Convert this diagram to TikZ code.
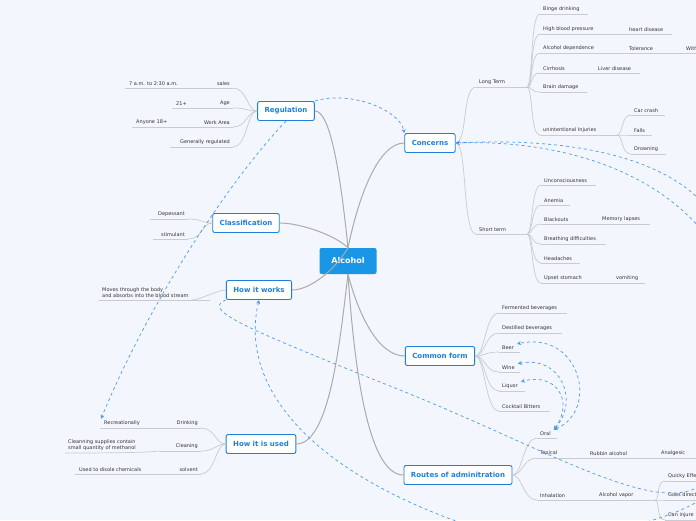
\documentclass[tikz,border=0pt]{standalone}
\usepackage{fontspec}
\setmainfont{DejaVu Sans}
\usetikzlibrary{arrows.meta}
\definecolor{bg}{HTML}{F3F6FD}
\definecolor{mblue}{HTML}{1E7FD8}
\definecolor{cblue}{HTML}{1A96E6}
\definecolor{dblue}{HTML}{4A9AEE}
\definecolor{lgrey}{HTML}{C9CBD0}
\definecolor{mgrey}{HTML}{ABABAB}
\definecolor{tgrey}{HTML}{333333}
\tikzset{
 topic/.style={draw=mblue,fill=white,rounded corners=2pt,line width=0.9pt,text=mblue,font=\fontsize{7}{8}\selectfont\bfseries,inner xsep=7pt,minimum height=19pt},
 central/.style={fill=cblue,rounded corners=2pt,text=white,font=\fontsize{8}{9}\selectfont\bfseries,minimum width=57pt,minimum height=26pt},
 leaf/.style={font=\fontsize{5}{6}\selectfont,text=tgrey,inner xsep=3pt,inner ysep=2pt,align=left},
 uline/.style={draw=lgrey,line width=0.7pt},
 conn/.style={draw=lgrey,line width=0.7pt},
 mconn/.style={draw=mgrey,line width=1pt},
 rel/.style={draw=dblue,dashed,line width=0.7pt,-{Stealth[length=4pt,width=4pt]}},
 relb/.style={draw=dblue,dashed,line width=0.7pt,{Stealth[length=4pt,width=4pt]}-{Stealth[length=4pt,width=4pt]}},
}
\newcommand\RL[5]{\node[leaf,anchor=south west] (#1) at (#2,#3) {#4}; \draw[uline] (#2,#3) -- (#5,#3);}
\newcommand\LL[5]{\node[leaf,anchor=south east] (#1) at (#2,#3) {#4}; \draw[uline] (#2,#3) -- (#5,#3);}
\newcommand\TX[4]{\node[leaf,anchor=south west] (#1) at (#2,#3) {#4};}
\begin{document}
\begin{tikzpicture}[x=1pt,y=-1pt]
\fill[bg] (0,0) rectangle (696,520);
\useasboundingbox (0,0) rectangle (696,520);
\begin{scope}
\clip (0,0) rectangle (696,520);
% topics
\node[central] (alc) at (348,261) {Alcohol};
\node[topic] (reg) at (286,111) {Regulation};
\node[topic] (con) at (430,143) {Concerns};
\node[topic] (cla) at (246,223) {Classification};
\node[topic] (how) at (259,290) {How it works};
\node[topic] (use) at (261,444) {How it is used};
\node[topic] (com) at (440,356) {Common form};
\node[topic] (rou) at (458,475) {Routes of adminitration};
% main connectors
\draw[mconn] (alc.north) .. controls (340,170) and (330,111) .. (reg.east);
\draw[mconn] (alc.north) .. controls (360,190) and (380,143) .. (con.west);
\draw[mconn] (alc.north) .. controls (335,235) and (300,223) .. (cla.east);
\draw[mconn] (alc.north) .. controls (335,270) and (310,290) .. (how.east);
\draw[mconn] (alc.south) .. controls (340,340) and (330,444) .. (use.east);
\draw[mconn] (alc.south) .. controls (360,320) and (380,356) .. (com.west);
\draw[mconn] (alc.south) .. controls (355,380) and (370,475) .. (rou.west);
% Concerns
\RL{lt}{476}{87}{Long Term}{527}
\RL{st}{476}{234}{Short term}{527}
\draw[conn] (con.east) .. controls +(12,0) and +(-14,0) .. (lt.south west);
\draw[conn] (con.east) .. controls +(12,0) and +(-14,0) .. (st.south west);
\coordinate (ltb) at (527,87);
\coordinate (stb) at (527,234);
\RL{l1}{540}{14}{Binge drinking}{588}
\RL{l2}{540}{34}{High blood pressure}{672}
\TX{l2a}{626}{34}{heart disease}
\RL{l3}{540}{53}{Alcohol dependence}{696}
\TX{l3a}{626}{53}{Tolerance}
\TX{l3b}{683}{53}{Withdrawal}
\RL{l4}{540}{73}{Cirrhosis}{640}
\TX{l4a}{595}{73}{Liver disease}
\RL{l5}{540}{92}{Brain damage}{587}
\RL{l6}{540}{135}{unintentional Injuries}{617}
\foreach \n in {l1,l2,l3,l4,l5,l6}{\draw[conn] (ltb) .. controls +(6,0) and +(-10,0) .. (\n.south west);}
\RL{i1}{631}{115}{Car crash}{665}
\RL{i2}{631}{135}{Falls}{652}
\RL{i3}{631}{154}{Drowning}{666}
\coordinate (ib) at (617,135);
\foreach \n in {i1,i2,i3}{\draw[conn] (ib) .. controls +(6,0) and +(-10,0) .. (\n.south west);}
\RL{s1}{541}{185}{Unconsciousness}{596}
\RL{s2}{541}{205}{Anemia}{570}
\RL{s3}{541}{224}{Blackouts}{650}
\TX{s3a}{599}{224}{Memory lapses}
\RL{s4}{541}{244}{Breathing difficulties}{606}
\RL{s5}{541}{263}{Headaches}{580}
\RL{s6}{541}{283}{Upset stomach}{645}
\TX{s6a}{613}{283}{vomiting}
\foreach \n in {s1,s2,s3,s4,s5,s6}{\draw[conn] (stb) .. controls +(6,0) and +(-10,0) .. (\n.south west);}
% Common form
\RL{c1}{499}{313}{Fermented beverages}{567}
\RL{c2}{499}{333}{Destilled beverages}{562}
\RL{c3}{499}{352}{Beer}{520}
\RL{c4}{499}{372}{Wine}{520}
\RL{c5}{499}{391}{Liquor}{525}
\RL{c6}{499}{411}{Cocktail Bitters}{550}
\foreach \n in {c1,c2,c3,c4,c5,c6}{\draw[conn] (com.east) .. controls +(10,0) and +(-14,0) .. (\n.south west);}
% Routes
\RL{r1}{537}{438}{Oral}{557}
\RL{r2}{537}{458}{Topical}{696}
\TX{r2a}{587}{458}{Rubbin alcohol}
\TX{r2b}{658}{458}{Analgesic}
\RL{r3}{537}{500}{Inhalation}{655}
\TX{r3a}{596}{500}{Alcohol vapor}
\foreach \n in {r1,r2,r3}{\draw[conn] (rou.east) .. controls +(10,0) and +(-14,0) .. (\n.south west);}
\RL{h1}{665}{481}{Quicky Effects}{696}
\RL{h2}{665}{500}{Goes directly}{696}
\RL{h3}{665}{520}{Can injure}{696}
\coordinate (hb) at (655,500);
\foreach \n in {h1,h2,h3}{\draw[conn] (hb) .. controls +(5,0) and +(-9,0) .. (\n.south west);}
% Regulation
\LL{g1}{233}{88}{sales}{125}
\TX{g1a}{126}{88}{7 a.m. to 2:30 a.m.}
\LL{g2}{233}{108}{Age}{172}
\TX{g2a}{173}{108}{21+}
\LL{g3}{233}{127}{Work Area}{132}
\TX{g3a}{133}{127}{Anyone 18+}
\LL{g4}{233}{147}{Generally regulated}{170}
\foreach \n in {g1,g2,g3,g4}{\draw[conn] (reg.west) .. controls +(-10,0) and +(14,0) .. (\n.south east);}
% Classification
\LL{k1}{188}{219}{Depessant}{150}
\LL{k2}{188}{239}{stimulant}{153}
\foreach \n in {k1,k2}{\draw[conn] (cla.west) .. controls +(-10,0) and +(14,0) .. (\n.south east);}
% How it works
\node[leaf,anchor=south west] (w1) at (99,300) {Moves through the body\\and absorbs into the blood stream};
\draw[uline] (99,300) -- (210,300);
\draw[conn] (how.west) .. controls +(-8,0) and +(8,0) .. (w1.south east);
% How it is used
\LL{u1}{201}{428}{Drinking}{100}
\TX{u1a}{101}{428}{Recreationally}
\LL{u2}{201}{451}{Cleaning}{160}
\node[leaf,anchor=south west] (u2a) at (65,453) {Cleanning supplies contain\\small quantity of methanol};
\draw[uline] (160,451) .. controls (155,451) and (160,453) .. (65,453);
\LL{u3}{201}{474}{solvent}{75}
\TX{u3a}{76}{474}{Used to disole chemicals}
\foreach \n in {u1,u2,u3}{\draw[conn] (use.west) .. controls +(-10,0) and +(14,0) .. (\n.south east);}
% relations
\draw[rel] (reg.north east) .. controls (350,90) and (400,110) .. (con.north west);
\draw[rel] (reg.south) .. controls (230,180) and (150,300) .. (u1a.north west);
\draw[rel] (700,200) .. controls (650,150) and (550,138) .. (con.east);
\draw[rel] (700,228) .. controls (640,160) and (540,140) .. (con.east);
\draw[relb] (r1.north east) .. controls (600,410) and (580,330) .. (c3.north east);
\draw[relb] (r1.north east) .. controls (580,400) and (560,355) .. (c4.north east);
\draw[relb] (r1.north east) .. controls (575,400) and (555,372) .. (c5.north east);
\draw[rel] (how.south west) .. controls (200,310) and (250,330) .. (400,390) .. controls (550,450) and (660,520) .. (h1.south east);
\draw[rel] (700,500) .. controls (670,520) and (550,560) .. (440,515) .. controls (300,460) and (240,380) .. (how.south);
\end{scope}
\end{tikzpicture}
\end{document}
